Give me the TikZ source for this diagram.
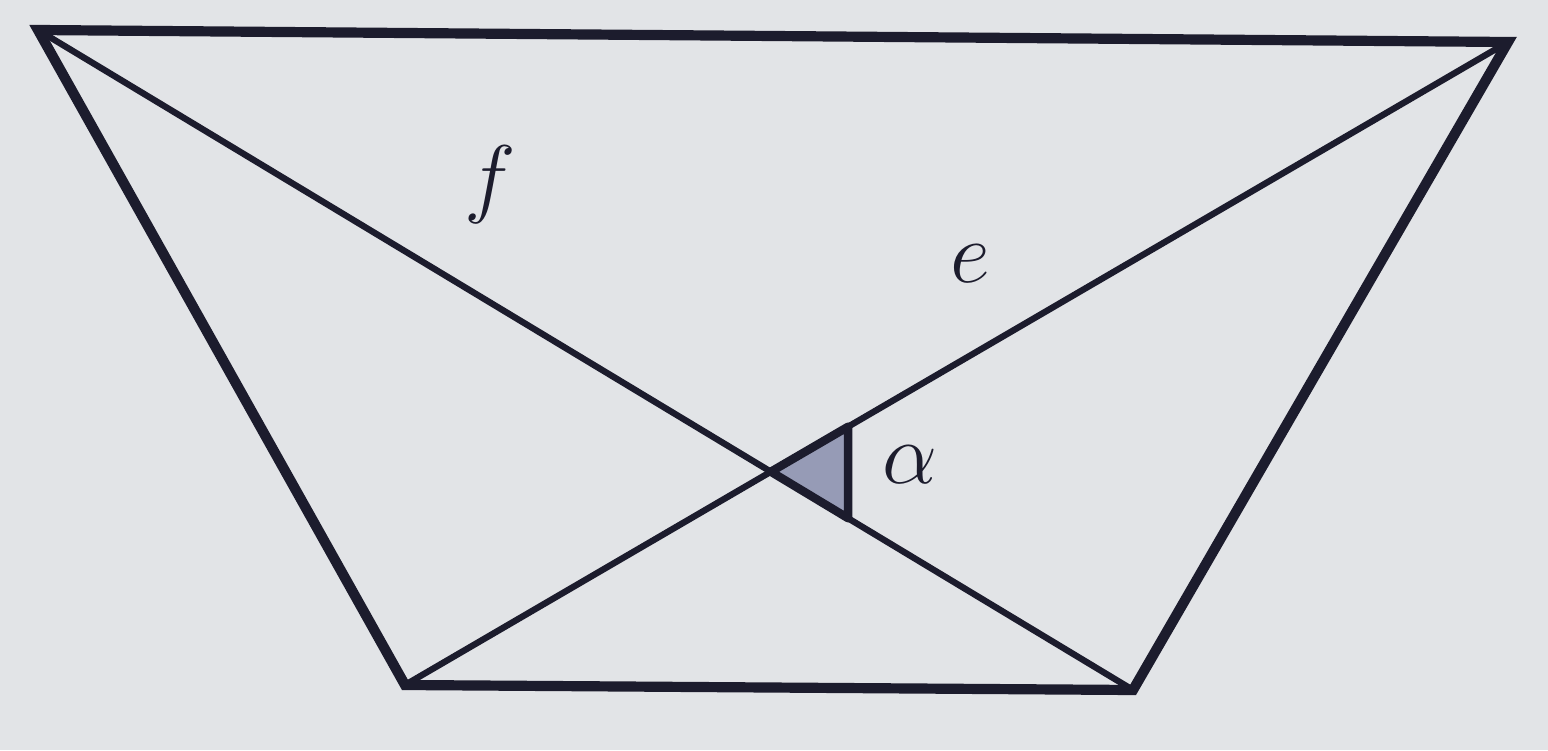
\documentclass[tikz,border=0pt]{standalone}
\usepackage{amsmath,amssymb}
\usepackage{tikz}
\definecolor{paper}{RGB}{226,228,231}
\definecolor{ink}{RGB}{28,28,45}
\definecolor{shade}{RGB}{150,155,182}
\tikzset{
  side/.style={ink, line width=2.9pt, line join=miter},
  diag/.style={ink, line width=1.8pt},
  lbl/.style={ink, font=\fontsize{30}{36}\selectfont}
}
\begin{document}
\begin{tikzpicture}
  \fill[paper] (0,0) rectangle (15.48,7.5);
  \useasboundingbox (0,0) rectangle (15.48,7.5);
  % corners of the trapezoid
  \coordinate (A) at (0.38,7.20);
  \coordinate (B) at (15.08,7.08);
  \coordinate (C) at (11.33,0.60);
  \coordinate (D) at (4.05,0.65);
  % diagonals and their crossing
  \draw[diag] (A)--(C);
  \draw[diag] (D)--(B);
  \coordinate (S) at (intersection of A--C and D--B);
  \coordinate (P) at (intersection of S--B and 8.48,0--8.48,7);
  \coordinate (Q) at (intersection of S--C and 8.48,0--8.48,7);
  \filldraw[fill=shade, draw=ink, line width=2.4pt, line join=round] (S)--(P)--(Q)--cycle;
  \draw[side] (A)--(B)--(C)--(D)--cycle;
  \node[lbl] (f) at (4.90,5.65) {$f$};
  \node[lbl] (e) at (9.70,4.86) {$e$};
  \node[lbl] (alpha) at (9.10,2.85) {$\alpha$};
\end{tikzpicture}
\end{document}
